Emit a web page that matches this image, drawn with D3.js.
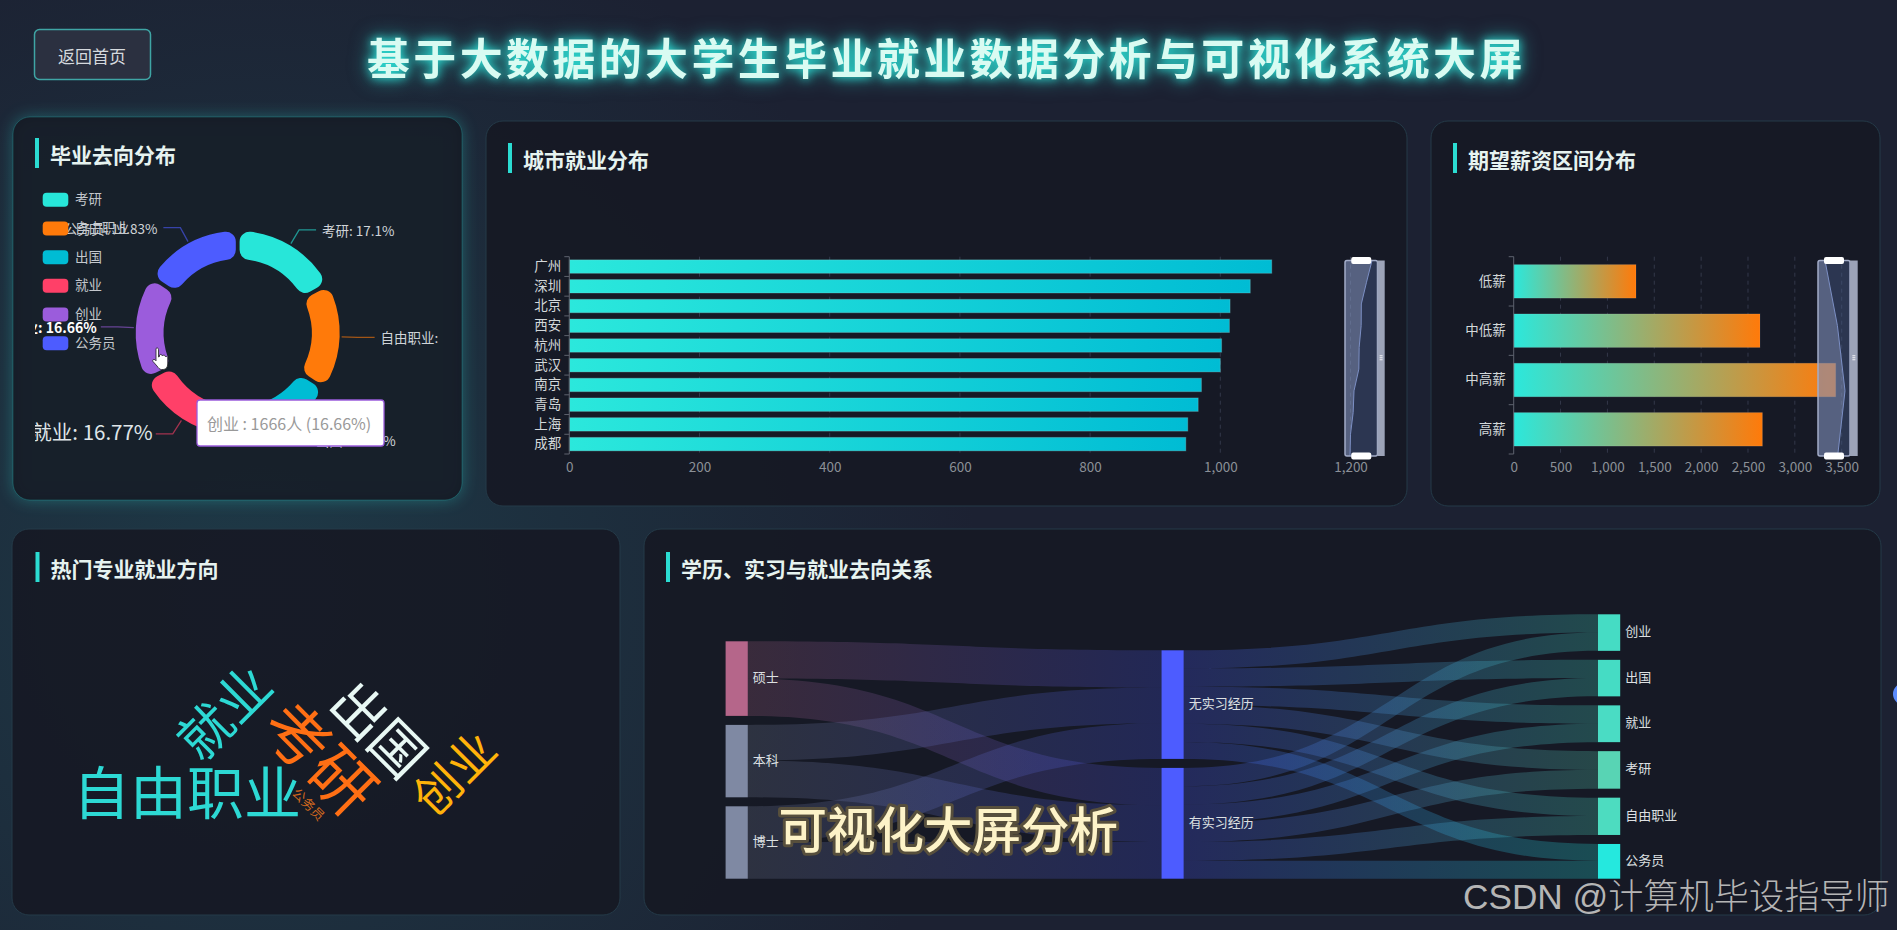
<!DOCTYPE html>
<html>
<head>
<meta charset="utf-8">
<script src="https://cdn.jsdelivr.net/npm/d3@7"></script>
<style>
  html, body { margin: 0; padding: 0; background: #1c2132; overflow: hidden; }
  text { font-family: "Noto Sans CJK SC", "Noto Sans", sans-serif; }
</style>
</head>
<body>
<div id="screen"></div>
<script>
// data
const destNames = ["考研", "自由职业", "出国", "就业", "创业", "公务员"];
const destCounts = [1710, 1700, 1664, 1677, 1666, 1583];

const cities = ["广州", "深圳", "北京", "西安", "杭州", "武汉", "南京", "青岛", "上海", "成都"];
const cityCounts = [1079, 1046, 1015, 1014, 1002, 1000, 971, 966, 950, 947];
const cityTicks = [0, 200, 400, 600, 800, 1000, 1200];

const salaryBands = ["低薪", "中低薪", "中高薪", "高薪"];
const salaryCounts = [1305, 2628, 3436, 2654];
const salaryTicks = [0, 500, 1000, 1500, 2000, 2500, 3000, 3500];

const cloudWords = ["自由职业", "考研", "就业", "出国", "创业", "公务员"];
const cloudWeights = [57, 64, 53, 54, 47, 13];

const degrees = ["硕士", "本科", "博士"];
const internships = ["无实习经历", "有实习经历"];
const outcomes = ["创业", "出国", "就业", "考研", "自由职业", "公务员"];
const degreeToNone = [1700, 1620, 1630];
const degreeToSome = [1700, 1680, 1670];
const noneToOutcome = [830, 830, 835, 850, 840, 765];
const someToOutcome = [836, 834, 842, 860, 860, 818];

const width = 1897;
const height = 930;

const svg = d3.select("#screen").append("svg")
  .attr("width", width)
  .attr("height", height)
  .style("display", "block");
const defs = svg.append("defs");

function hGradient(id, stops, attrs) {
  const g = defs.append("linearGradient").attr("id", id);
  Object.entries(attrs || {x1: "0%", x2: "100%", y1: "0%", y2: "0%"}).forEach(([k, v]) => g.attr(k, v));
  stops.forEach(s => g.append("stop").attr("offset", s[0]).attr("stop-color", s[1]));
}
hGradient("cityBar", [["0%", "#2be8dc"], ["100%", "#00bcd4"]]);
hGradient("salaryBar", [["0%", "#2be8dc"], ["100%", "#ff7a0a"]]);

// page background
const glow = defs.append("radialGradient").attr("id", "pageGlow")
  .attr("gradientUnits", "userSpaceOnUse")
  .attr("cx", 260).attr("cy", 600).attr("r", 720);
glow.append("stop").attr("offset", "0%").attr("stop-color", "#1f4a55").attr("stop-opacity", 0.6);
glow.append("stop").attr("offset", "100%").attr("stop-color", "#1f4a55").attr("stop-opacity", 0);
svg.append("rect").attr("width", width).attr("height", height).attr("fill", "#1c2132");
svg.append("rect").attr("width", width).attr("height", height).attr("fill", "url(#pageGlow)");

// header
const btn = svg.append("g");
btn.append("rect").attr("x", 34.5).attr("y", 29.5).attr("width", 116).attr("height", 50).attr("rx", 5)
  .attr("fill", "#2b3040").attr("stroke", "#3fa5a5").attr("stroke-width", 1.5);
btn.append("text").attr("x", 92).attr("y", 55).attr("text-anchor", "middle").attr("dominant-baseline", "central")
  .attr("font-size", 17).attr("fill", "#d5d9de").text("返回首页");

svg.append("text")
  .attr("x", 367).attr("y", 56).attr("dominant-baseline", "central")
  .attr("font-size", 43).attr("font-weight", 700).attr("letter-spacing", 3.35)
  .attr("fill", "#d9fbf2")
  .style("filter", "drop-shadow(0 0 5px #2de8dd) drop-shadow(0 0 9px rgba(45,232,221,.55))")
  .text("基于大数据的大学生毕业就业数据分析与可视化系统大屏");

// panels
function panel(x, y, w, h, title, titleX, titleY, lit) {
  const r = svg.append("rect").attr("x", x).attr("y", y).attr("width", w).attr("height", h).attr("rx", 17)
    .attr("fill", "rgba(22,24,36,.9)")
    .attr("stroke", lit ? "rgba(45,232,221,.22)" : "#243a48").attr("stroke-width", 1);
  if (lit) r.style("filter", "drop-shadow(0 0 8px rgba(45,232,221,.33))");
  svg.append("rect").attr("x", titleX).attr("y", titleY - 15).attr("width", 4).attr("height", 30).attr("fill", "#2bdcd2");
  svg.append("text").attr("x", titleX + 15).attr("y", titleY + 1).attr("dominant-baseline", "central")
    .attr("font-size", 21).attr("font-weight", 700).attr("fill", "#e6f3f0").text(title);
}
panel(13, 117, 449, 383, "毕业去向分布", 35, 153, true);
panel(486, 121, 921, 385, "城市就业分布", 508, 158);
panel(1431, 121, 449, 385, "期望薪资区间分布", 1453, 158);
panel(12, 529, 608, 386, "热门专业就业方向", 35.5, 567);
panel(644, 529, 1237, 386, "学历、实习与就业去向关系", 666, 567);

// donut
const donutColors = d3.scaleOrdinal()
  .domain(destNames)
  .range(["#27e6d9", "#ff7a0a", "#00bcd4", "#ff4068", "#9b5cdc", "#4d5cff"]);
const destTotal = d3.sum(destCounts);
const pct = v => +(v / destTotal * 100).toFixed(2);
const cx = 237.7, cy = 333, R = 102, r0 = 74;
const pie = d3.pie().sort(null).value((d, i) => destCounts[i]).padAngle(0.03);
const arc = d3.arc().innerRadius(r0).outerRadius(R).cornerRadius(10);
const slices = pie(destNames);
const donut = svg.append("g").attr("transform", `translate(${cx},${cy})`);
donut.selectAll("path").data(slices).join("path")
  .attr("d", arc)
  .attr("fill", d => donutColors(d.data));

defs.append("clipPath").attr("id", "donutClip").append("rect")
  .attr("x", 35).attr("y", 117).attr("width", 403).attr("height", 383);
const labels = svg.append("g").attr("clip-path", "url(#donutClip)");
const labelStyle = {
  "就业": {size: 20.5, weight: 400, fill: "#dfe5e8", dx: 3, dy: -3},
  "创业": {size: 14, weight: 700, fill: "#ffffff", dx: 2, dy: 0}
};
slices.forEach(d => {
  const mid = (d.startAngle + d.endAngle) / 2;
  const sx = Math.sin(mid), sy = -Math.cos(mid);
  const side = sx >= 0 ? 1 : -1;
  const bendX = cx + sx * 120, bendY = cy + sy * 120;
  const endX = bendX + side * 17;
  labels.append("path")
    .attr("d", d3.line()([[cx + sx * 104, cy + sy * 104], [bendX, bendY], [endX, bendY]]))
    .attr("fill", "none").attr("stroke", donutColors(d.data)).attr("stroke-opacity", 0.6).attr("stroke-width", 1.3);
  const st = labelStyle[d.data] || {size: 13.5, weight: 400, fill: "#cfd4d8", dx: 0, dy: 0};
  labels.append("text")
    .attr("x", endX + side * 6 + st.dx).attr("y", bendY + st.dy)
    .attr("text-anchor", side > 0 ? "start" : "end").attr("dominant-baseline", "central")
    .attr("font-size", st.size).attr("font-weight", st.weight).attr("fill", st.fill)
    .text(`${d.data}: ${pct(destCounts[destNames.indexOf(d.data)])}%`);
});

// donut legend
const legendY = d3.scalePoint().domain(destNames).range([199.7, 343.3]);
destNames.forEach(n => {
  svg.append("rect").attr("x", 42.7).attr("y", legendY(n) - 7).attr("width", 25.6).attr("height", 14).attr("rx", 4)
    .attr("fill", donutColors(n));
  svg.append("text").attr("x", 75).attr("y", legendY(n) - 1.5).attr("dominant-baseline", "central")
    .attr("font-size", 13.5).attr("fill", "#c4c8cd").text(n);
});

// hover tooltip and the hand cursor
const hover = destNames.indexOf("创业");
svg.append("rect").attr("x", 197).attr("y", 400).attr("width", 187).attr("height", 46).attr("rx", 3)
  .attr("fill", "#ffffff").attr("stroke", donutColors("创业")).attr("stroke-width", 1.3);
svg.append("text").attr("x", 207).attr("y", 423).attr("dominant-baseline", "central")
  .attr("font-size", 16).attr("fill", "#999").text(`${destNames[hover]} : ${destCounts[hover]}人 (${pct(destCounts[hover])}%)`);
svg.append("path")
  .attr("transform", "translate(152,347)")
  .attr("d", "M4 1.5c1-1 2.5-.5 2.5 1V10l1-.5V8c1-1 2.2-.6 2.4.4l1 .1c1-.7 2.2-.2 2.3.9l.8.2c1-.3 1.7.3 1.7 1.2V17c0 3-1.500 5.500-4.500 5.500H9.500C7.500 22.500 6.500 21 5 19L1 14.500c-1-1.300.5-2.800 2-1.700l1 1z")
  .attr("fill", "#fff").attr("stroke", "#222").attr("stroke-width", 0.8);

// shared bar-chart builder, the ECharts-like vertical slider sits on the right
function barChart(cats, vals, ticks, xRange, barFill, barStroke, slider) {
  const yTop = 256.7, yBottom = 454;
  const x = d3.scaleLinear().domain([0, ticks[ticks.length - 1]]).range(xRange);
  const y = d3.scaleBand().domain(cats).range([yTop, yBottom]).paddingInner(0.32).paddingOuter(0.16);
  const g = svg.append("g");

  g.append("g").selectAll("line").data(ticks.slice(1)).join("line")
    .attr("x1", x).attr("x2", x).attr("y1", yTop).attr("y2", yBottom)
    .attr("stroke", "#33384a").attr("stroke-dasharray", "4 4");

  g.append("g").selectAll("rect").data(cats).join("rect")
    .attr("x", x(0))
    .attr("y", d => y(d))
    .attr("width", (d, i) => x(vals[i]) - x(0))
    .attr("height", y.bandwidth())
    .attr("fill", barFill)
    .attr("stroke", barStroke);

  const xAxis = g.append("g").attr("transform", `translate(0,${yBottom})`)
    .call(d3.axisBottom(x).tickValues(ticks).tickFormat(d3.format(",")).tickSize(0).tickPadding(8));
  xAxis.select(".domain").remove();
  xAxis.selectAll("text").attr("font-size", 13.5).attr("fill", "#8b9097");

  const yAxis = g.append("g").attr("transform", `translate(${x(0)},0)`)
    .call(d3.axisLeft(y).tickSize(0).tickPadding(8));
  yAxis.select(".domain").remove();
  yAxis.selectAll("text").attr("font-size", 13.5).attr("fill", "#d3d8da");

  const step = (yBottom - yTop) / cats.length;
  const edges = d3.range(cats.length + 1).map(i => yTop + i * step);
  g.append("line").attr("x1", x(0)).attr("x2", x(0)).attr("y1", yTop).attr("y2", yBottom).attr("stroke", "#5e636e");
  g.append("g").selectAll("line").data(edges).join("line")
    .attr("x1", x(0) - 5).attr("x2", x(0)).attr("y1", d => d).attr("y2", d => d).attr("stroke", "#5e636e");

  // slider with its data shadow
  const s = slider;
  const yS = d3.scalePoint().domain(cats).range([s.top, s.bottom]);
  const xS = d3.scaleLinear().domain(d3.extent(vals)).range(s.shadow);
  const z = svg.append("g");
  z.append("rect").attr("x", s.x0).attr("y", s.top).attr("width", s.x1 - s.x0).attr("height", s.bottom - s.top)
    .attr("fill", "rgba(72,90,135,.45)");
  z.append("path")
    .attr("d", d3.area().x0(s.x0).x1((d, i) => xS(vals[i])).y(d => yS(d))(cats))
    .attr("fill", "rgba(185,200,240,.3)");
  z.append("path")
    .attr("d", d3.line().x((d, i) => xS(vals[i])).y(d => yS(d))(cats))
    .attr("fill", "none").attr("stroke", "#7c8fc4").attr("stroke-width", 1);
  z.append("rect").attr("x", s.x0).attr("y", s.top).attr("width", s.x1 - s.x0).attr("height", s.bottom - s.top)
    .attr("fill", "none").attr("stroke", "#a3acc8").attr("stroke-width", 1.5).attr("rx", 2);
  z.append("rect").attr("x", s.x1).attr("y", s.top).attr("width", s.end - s.x1).attr("height", s.bottom - s.top)
    .attr("fill", "#9ca3b8");
  d3.range(3).forEach(i => z.append("rect")
    .attr("x", (s.x1 + s.end) / 2 - 1.5).attr("y", (s.top + s.bottom) / 2 - 3 + i * 2)
    .attr("width", 3).attr("height", 1).attr("fill", "#f2f3f6"));
  [s.top, s.bottom].forEach(py => z.append("rect")
    .attr("x", (s.x0 + s.x1) / 2 - 10).attr("y", py - 3.5)
    .attr("width", 20).attr("height", 7).attr("rx", 2).attr("fill", "#ffffff"));
}

barChart(cities, cityCounts, cityTicks, [569.3, 1350.5], "url(#cityBar)", "rgba(150,215,215,.3)",
  {x0: 1345, x1: 1377.5, end: 1384.7, top: 260.5, bottom: 456, shadow: [1350, 1372]});
barChart(salaryBands, salaryCounts, salaryTicks, [1513.7, 1841.7], "url(#salaryBar)", "rgba(255,255,255,.1)",
  {x0: 1818, x1: 1850, end: 1857.7, top: 260.5, bottom: 456, shadow: [1825, 1845]});

// word cloud, placement is hand-fitted to the layout in the picture
const wordSize = d3.scaleLinear().domain(d3.extent(cloudWeights)).range([13, 64]);
const wordPlace = {
  "自由职业": {x: 187, y: 789, rot: 0, fill: "#2dd9d4"},
  "考研": {x: 323, y: 755, rot: 45, fill: "#ff6f14"},
  "就业": {x: 222, y: 710, rot: -45, fill: "#2dd9d4"},
  "出国": {x: 381, y: 727, rot: 45, fill: "#e8f8f4"},
  "创业": {x: 452, y: 771, rot: -45, fill: "#ffb30a"},
  "公务员": {x: 309, y: 804, rot: 45, fill: "#d2691e"}
};
svg.append("g").selectAll("text").data(cloudWords).join("text")
  .attr("transform", d => `translate(${wordPlace[d].x},${wordPlace[d].y}) rotate(${wordPlace[d].rot})`)
  .attr("text-anchor", "middle").attr("dominant-baseline", "central")
  .attr("font-size", (d, i) => wordSize(cloudWeights[i]))
  .attr("fill", d => wordPlace[d].fill)
  .text(d => d);

// sankey, d3 v7 has no sankey layout so stack the nodes by hand
const flow = d3.scaleLinear().domain([0, d3.sum(destCounts)]).range([0, 219.4]);
const sankeyBottom = 878.7, nodeW = 22.2, nodeGap = 9;
const colX = [725.6, 1161.5, 1598];
function stack(names, vals, col, colors) {
  let yy = sankeyBottom - flow(d3.sum(vals)) - nodeGap * (names.length - 1);
  return names.map((name, i) => {
    const n = {name, col, y: yy, h: flow(vals[i]), color: colors[i], outY: yy, inY: yy};
    yy += n.h + nodeGap;
    return n;
  });
}
const degreeNodes = stack(degrees, degreeToNone.map((v, i) => v + degreeToSome[i]), 0, ["#b5668a", "#7f89a3", "#7f89a3"]);
const internNodes = stack(internships, [d3.sum(degreeToNone), d3.sum(degreeToSome)], 1, ["#4d5cff", "#4d5cff"]);
const outcomeNodes = stack(outcomes, noneToOutcome.map((v, i) => v + someToOutcome[i]), 2,
  ["#45dcc4", "#45dcc4", "#4adcc4", "#58d4b4", "#4ddcc0", "#25e8de"]);

const links = [];
degreeNodes.forEach((n, i) => {
  links.push({s: n, t: internNodes[0], v: degreeToNone[i]});
  links.push({s: n, t: internNodes[1], v: degreeToSome[i]});
});
outcomeNodes.forEach((n, i) => {
  links.push({s: internNodes[0], t: n, v: noneToOutcome[i]});
  links.push({s: internNodes[1], t: n, v: someToOutcome[i]});
});
links.sort((a, b) => a.s.col - b.s.col);

// the incoming bands fill each node top-down, degree order first
const degreeOrder = l => degrees.indexOf(l.s.name);
internNodes.forEach(n => {
  links.filter(l => l.t === n).sort((a, b) => degreeOrder(a) - degreeOrder(b)).forEach(l => {
    l.ty = n.inY;
    n.inY += flow(l.v);
  });
});
degreeNodes.concat(internNodes).forEach(n => {
  links.filter(l => l.s === n).forEach(l => {
    l.sy = n.outY;
    n.outY += flow(l.v);
  });
});
outcomeNodes.forEach(n => {
  links.filter(l => l.t === n).forEach(l => {
    l.ty = n.inY;
    n.inY += flow(l.v);
  });
});

const ribbons = svg.append("g");
links.forEach((l, i) => {
  const x0 = colX[l.s.col] + nodeW, x1 = colX[l.t.col];
  const xm = (x0 + x1) / 2, h = flow(l.v);
  const id = "ribbon" + i;
  hGradient(id, [["0%", l.s.color], ["100%", l.t.color]],
    {gradientUnits: "userSpaceOnUse", x1: x0, x2: x1, y1: 0, y2: 0});
  ribbons.append("path")
    .attr("d", `M${x0},${l.sy}C${xm},${l.sy} ${xm},${l.ty} ${x1},${l.ty}L${x1},${l.ty + h}C${xm},${l.ty + h} ${xm},${l.sy + h} ${x0},${l.sy + h}Z`)
    .attr("fill", `url(#${id})`).attr("fill-opacity", l.s.col === 0 ? 0.22 : 0.25);
});

const allNodes = degreeNodes.concat(internNodes, outcomeNodes);
svg.append("g").selectAll("rect").data(allNodes).join("rect")
  .attr("x", d => colX[d.col]).attr("y", d => d.y)
  .attr("width", nodeW).attr("height", d => d.h)
  .attr("fill", d => d.color);
svg.append("g").selectAll("text").data(allNodes).join("text")
  .attr("x", d => colX[d.col] + nodeW + 5).attr("y", d => d.y + d.h / 2 - 2)
  .attr("dominant-baseline", "central")
  .attr("font-size", 13).attr("fill", "#dde0e2")
  .text(d => d.name);

// video caption and watermark that sit on the screenshot
svg.append("text")
  .attr("x", 778.6).attr("y", 826.7).attr("dominant-baseline", "central")
  .attr("font-size", 48.5).attr("font-weight", 500)
  .attr("fill", "#fdf3c8").attr("stroke", "#574f3c").attr("stroke-width", 6)
  .attr("paint-order", "stroke").attr("stroke-linejoin", "round")
  .text("可视化大屏分析");
svg.append("text")
  .attr("x", 1463).attr("y", 896.7).attr("dominant-baseline", "central")
  .attr("font-size", 35.2).attr("font-weight", 300).attr("fill", "#b5b5b5")
  .style("font-family", '"Liberation Sans", "Noto Sans CJK SC", sans-serif')
  .text("CSDN @计算机毕设指导师");
svg.append("circle").attr("cx", 1904).attr("cy", 694).attr("r", 11).attr("fill", "#5b8cff");
</script>
</body>
</html>
